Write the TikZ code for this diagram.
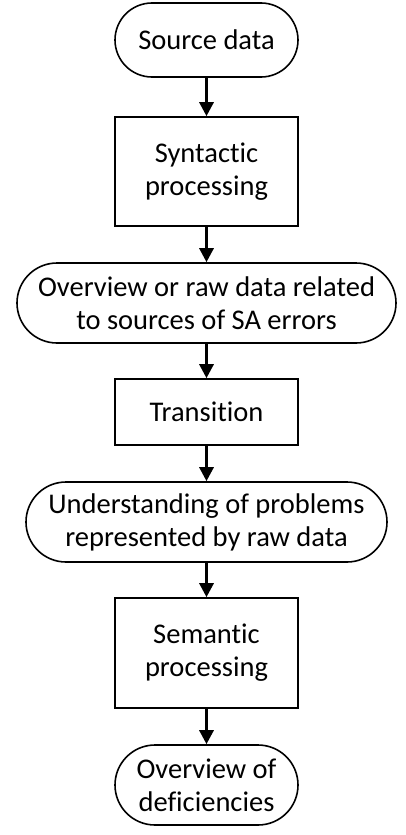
\documentclass[tikz,border=0pt]{standalone}
\usepackage{fontspec}
\setmainfont[Ligatures=NoCommon]{Carlito}
\usepackage{tikz}
\usetikzlibrary{arrows.meta}

\begin{document}
\begin{tikzpicture}[x=1pt, y=-1pt,
    every node/.style={font=\fontsize{28.5}{33}\selectfont, align=center, inner sep=0pt},
    stadium/.style={draw, line width=1.6pt, minimum width=#1, minimum height=80pt, rounded corners=40pt},
    stadium/.default=183pt,
    procbox/.style={draw, line width=1.6pt, minimum width=183pt},
    flow/.style={line width=3pt, -{Triangle[length=14pt, width=14pt]}}]
    %% Background
    \useasboundingbox (0,0) rectangle (405,835);

    %% Stages
    \node[stadium, minimum height=74pt, rounded corners=37pt] (src) at (206.5,40) {Source data};
    \node[procbox, minimum height=109pt] (syn) at (206.5,171.5) {Syntactic\\processing};
    \node[stadium=379pt] (ovr) at (206.5,303) {Overview or raw data related\\to sources of SA errors};
    \node[procbox, minimum height=66pt] (trn) at (206.5,412) {Transition};
    \node[stadium=361pt] (und) at (206.5,522) {Understanding of problems\\represented by raw data};
    \node[procbox, minimum height=110pt] (sem) at (206.5,653) {Semantic\\processing};
    \node[stadium] (dfc) at (206.5,785) {Overview of\\deficiencies};

    %% Arrows
    \draw[flow] (src) -- (syn);
    \draw[flow] (syn) -- (ovr);
    \draw[flow] (ovr) -- (trn);
    \draw[flow] (trn) -- (und);
    \draw[flow] (und) -- (sem);
    \draw[flow] (sem) -- (dfc);

\end{tikzpicture}
\end{document}
